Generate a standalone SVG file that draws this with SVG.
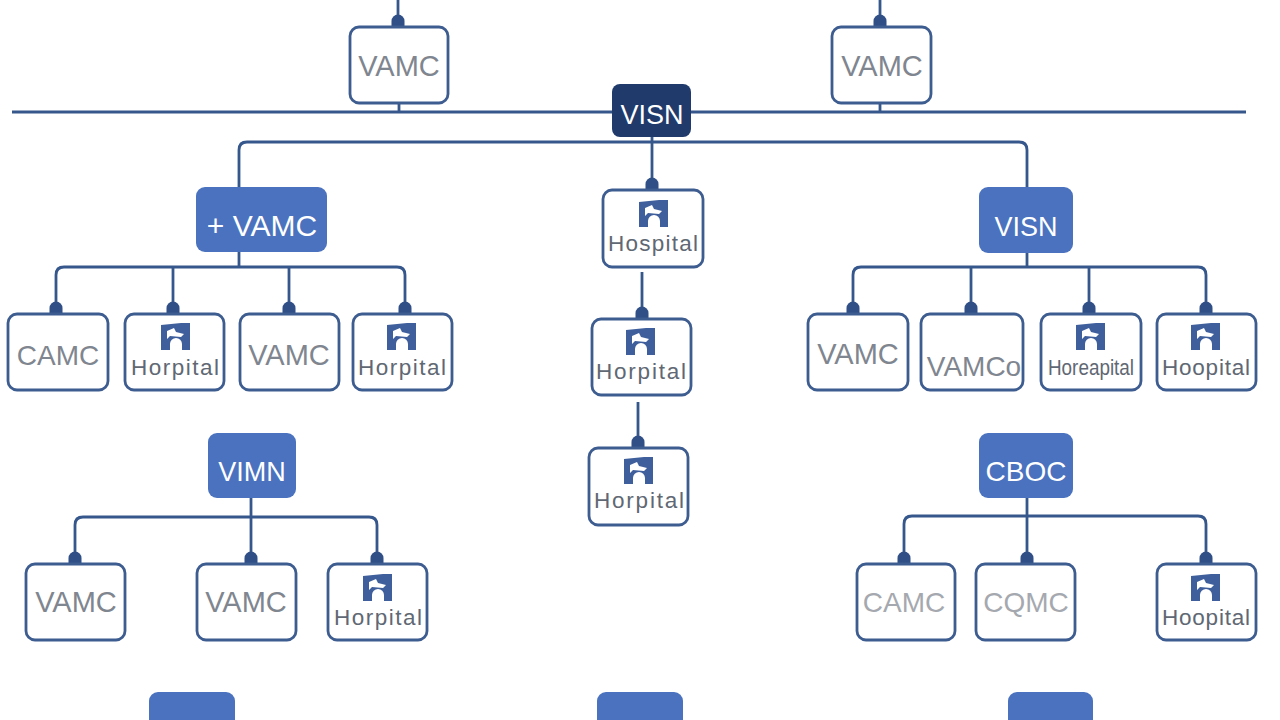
<svg xmlns="http://www.w3.org/2000/svg" width="1280" height="720" viewBox="0 0 1280 720">
<style>
text{font-family:"Liberation Sans",Arial,sans-serif;text-anchor:middle}
.box{fill:#fff;stroke:#3d5c8f;stroke-width:2.8}
.blue{fill:#4a72bf}
.dark{fill:#1f3a6b}
.lab{font-size:28px;fill:#7f868f}
.vamc{font-size:29px;fill:#7f868f}
.faint{fill:#a5a9af}
.hos{font-size:22.5px;fill:#5f6873}
.wh{font-size:28px;fill:#fff}
.wh27{font-size:27px;fill:#fff}
.con{fill:none;stroke:#36578c;stroke-width:2.8;stroke-linejoin:round}
</style>
<defs>
<marker id="dot" markerUnits="userSpaceOnUse" markerWidth="14" markerHeight="14" refX="7" refY="13" orient="0" overflow="visible">
<path d="M0.5 13V7a6.5 6.5 0 0 1 13 0V13Z" fill="#2f4f86"/>
</marker>
<g id="icon">
<path d="M0 2L20 0H29V27H21V21A6 6 0 0 0 9 21V27H0Z" fill="#3f5f9c"/>
<path d="M6 8L13 5L15 9L23 11L20 14L9 13L6 16Z" fill="#fff"/>
</g>
</defs>

<g id="connectors" class="con">
<path d="M398 0V27" marker-end="url(#dot)"/>
<path d="M880 0V27" marker-end="url(#dot)"/>
<path d="M399 103V112"/>
<path d="M880 103V112"/>
<path d="M12 112H1246"/>
<path d="M652 137V142"/>
<path d="M239 187V150Q239 142 247 142H1019Q1027 142 1027 150V187"/>
<path d="M652 142V190" marker-end="url(#dot)"/>
<path d="M239 252V267"/>
<path d="M56 314V275Q56 267 64 267H397Q405 267 405 275V314" marker-end="url(#dot)" marker-start="url(#dot)"/>
<path d="M173 267V314" marker-end="url(#dot)"/>
<path d="M289 267V314" marker-end="url(#dot)"/>
<path d="M1027 253V267"/>
<path d="M853 314V275Q853 267 861 267H1198Q1206 267 1206 275V314" marker-end="url(#dot)" marker-start="url(#dot)"/>
<path d="M971 267V314" marker-end="url(#dot)"/>
<path d="M1089 267V314" marker-end="url(#dot)"/>
<path d="M642 272V319" marker-end="url(#dot)"/>
<path d="M638 402V448" marker-end="url(#dot)"/>
<path d="M251 498V517"/>
<path d="M75 564V525Q75 517 83 517H369Q377 517 377 525V564" marker-end="url(#dot)" marker-start="url(#dot)"/>
<path d="M251 517V564" marker-end="url(#dot)"/>
<path d="M1027 498V564" marker-end="url(#dot)"/>
<path d="M904 564V524Q904 516 912 516H1198Q1206 516 1206 524V564" marker-end="url(#dot)" marker-start="url(#dot)"/>
</g>

<g id="top-vamc-1"><rect class="box" x="350" y="27" width="98" height="76" rx="9"/><text class="vamc" x="399" y="76">VAMC</text></g>
<g id="top-vamc-2"><rect class="box" x="832" y="27" width="99" height="76" rx="9"/><text class="vamc" x="882" y="76">VAMC</text></g>
<g id="visn-root"><rect class="dark" x="612" y="84" width="79" height="53" rx="8"/><text class="wh27" x="652" y="124">VISN</text></g>

<g id="vamc-plus"><rect class="blue" x="196" y="187" width="131" height="65" rx="9"/><text class="wh" x="262" y="236" style="font-size:30px">+ VAMC</text></g>
<g id="hospital-a"><rect class="box" x="603" y="190" width="100" height="77" rx="9"/><use href="#icon" x="639" y="200"/><text class="hos" x="653" y="251" textLength="90">Hospital</text></g>
<g id="visn-right"><rect class="blue" x="979" y="187" width="94" height="66" rx="9"/><text class="wh27" x="1026" y="236">VISN</text></g>

<g id="camc-1"><rect class="box" x="8" y="314" width="100" height="76" rx="9"/><text class="lab" x="58" y="365">CAMC</text></g>
<g id="hospital-b"><rect class="box" x="125" y="314" width="99" height="76" rx="9"/><use href="#icon" x="161" y="323"/><text class="hos" x="175" y="375" textLength="88">Horpital</text></g>
<g id="vamc-2"><rect class="box" x="240" y="314" width="99" height="76" rx="9"/><text class="vamc" x="289" y="365">VAMC</text></g>
<g id="hospital-c"><rect class="box" x="353" y="314" width="99" height="76" rx="9"/><use href="#icon" x="387" y="323"/><text class="hos" x="402" y="375" textLength="88">Horpital</text></g>

<g id="vamc-3"><rect class="box" x="808" y="314" width="100" height="76" rx="9"/><text class="vamc" x="858" y="364">VAMC</text></g>
<g id="vamc-4"><rect class="box" x="921" y="314" width="102" height="76" rx="9"/><text class="lab" x="974" y="376">VAMCo</text></g>
<g id="hospital-d"><rect class="box" x="1041" y="314" width="100" height="76" rx="9"/><use href="#icon" x="1076" y="323"/><text class="hos" x="1091" y="375" textLength="86" lengthAdjust="spacingAndGlyphs">Horeapital</text></g>
<g id="hospital-e"><rect class="box" x="1157" y="314" width="99" height="76" rx="9"/><use href="#icon" x="1191" y="323"/><text class="hos" x="1206" y="375" textLength="88">Hoopital</text></g>

<g id="hospital-f"><rect class="box" x="592" y="319" width="99" height="76" rx="9"/><use href="#icon" x="626" y="328"/><text class="hos" x="641" y="379" textLength="90">Horpital</text></g>
<g id="hospital-g"><rect class="box" x="589" y="448" width="99" height="77" rx="9"/><use href="#icon" x="624" y="457"/><text class="hos" x="639" y="508" textLength="90">Horpital</text></g>

<g id="vimn"><rect class="blue" x="208" y="433" width="88" height="65" rx="9"/><text class="wh27" x="252" y="481">VIMN</text></g>
<g id="cboc"><rect class="blue" x="979" y="433" width="94" height="65" rx="9"/><text class="wh" x="1026" y="481">CBOC</text></g>

<g id="vamc-5"><rect class="box" x="26" y="564" width="99" height="76" rx="9"/><text class="vamc" x="76" y="612">VAMC</text></g>
<g id="vamc-6"><rect class="box" x="197" y="564" width="99" height="76" rx="9"/><text class="vamc" x="246" y="612">VAMC</text></g>
<g id="hospital-h"><rect class="box" x="328" y="564" width="99" height="76" rx="9"/><use href="#icon" x="363" y="574"/><text class="hos" x="378" y="625" textLength="88">Horpital</text></g>

<g id="camc-2"><rect class="box" x="857" y="564" width="98" height="76" rx="9"/><text class="lab faint" x="904" y="612">CAMC</text></g>
<g id="cqmc"><rect class="box" x="976" y="564" width="99" height="76" rx="9"/><text class="lab faint" x="1026" y="612">CQMC</text></g>
<g id="hospital-i"><rect class="box" x="1157" y="564" width="99" height="76" rx="9"/><use href="#icon" x="1191" y="574"/><text class="hos" x="1206" y="625" textLength="88">Hoopital</text></g>

<g id="bottom-1"><rect class="blue" x="149" y="692" width="86" height="40" rx="9"/></g>
<g id="bottom-2"><rect class="blue" x="597" y="692" width="86" height="40" rx="9"/></g>
<g id="bottom-3"><rect class="blue" x="1008" y="692" width="85" height="40" rx="9"/></g>
</svg>
